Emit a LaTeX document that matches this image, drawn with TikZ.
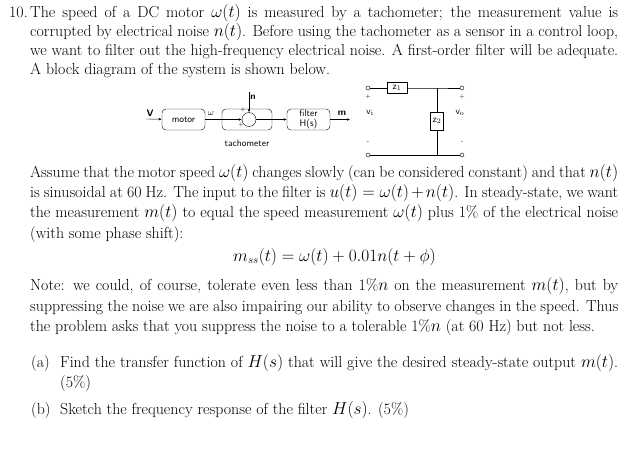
\documentclass[tikz,border=0pt]{standalone}
\usepackage{amsmath}
\usetikzlibrary{arrows.meta}
\begin{document}
\begin{tikzpicture}[x=1pt,y=-1pt,
  txt/.style={anchor=base west,inner sep=0pt,font=\fontsize{15.9}{19}\selectfont},
  blk/.style={draw,rounded corners=4pt,minimum height=21pt,inner sep=1pt,font=\sffamily\fontsize{9.5}{10}\selectfont,align=center},
  lbl/.style={inner sep=0pt,font=\sffamily\fontsize{9.5}{10}\selectfont},
  arr/.style={-{Latex[length=3pt,width=2.5pt]}},
  term/.style={draw,circle,minimum size=4pt,inner sep=0pt,fill=white}]
\useasboundingbox (0,0) rectangle (638,456);
\newcommand\fl[2]{\hbox to 588pt{#2}}
% text
\node[txt] (n10) at (9,17) {10.};
\node[txt] (l1) at (30,17) {\fl{}{The speed of a DC motor $\omega(t)$ is measured by a tachometer; the measurement value is}};
\node[txt] (l2) at (30,36) {\fl{}{corrupted by electrical noise $n(t)$. Before using the tachometer as a sensor in a control loop,}};
\node[txt] (l3) at (30,55) {\fl{}{we want to filter out the high-frequency electrical noise. A first-order filter will be adequate.}};
\node[txt] (l4) at (30,74) {A block diagram of the system is shown below.};
\node[txt] (l5) at (30,177) {\fl{}{Assume that the motor speed $\omega(t)$ changes slowly (can be considered constant) and that $n(t)$}};
\node[txt] (l6) at (30,197) {\fl{}{is sinusoidal at 60 Hz. The input to the filter is $u(t)=\omega(t)+n(t)$. In steady-state, we want}};
\node[txt] (l7) at (30,217) {\fl{}{the measurement $m(t)$ to equal the speed measurement $\omega(t)$ plus 1\% of the electrical noise}};
\node[txt] (l8) at (30,238) {(with some phase shift):};
\node[txt] (eq) at (233,261) {$m_{ss}(t)=\omega(t)+0.01n(t+\phi)$};
\node[txt] (l9) at (30,290) {\fl{}{Note: we could, of course, tolerate even less than 1\%$n$ on the measurement $m(t)$, but by}};
\node[txt] (l10) at (30,311) {\fl{}{suppressing the noise we are also impairing our ability to observe changes in the speed. Thus}};
\node[txt] (l11) at (30,331) {the problem asks that you suppress the noise to a tolerable 1\%$n$ (at 60 Hz) but not less.};
\node[txt] (la) at (31,367) {(a)};
\node[txt] (la1) at (60,367) {\hbox to 558pt{Find the transfer function of $H(s)$ that will give the desired steady-state output $m(t)$.}};
\node[txt] (la2) at (60,387) {(5\%)};
\node[txt] (lb) at (31,414) {(b)};
\node[txt] (lb1) at (60,414) {Sketch the frequency response of the filter $H(s)$. (5\%)};
% block diagram
\coordinate (vin) at (146,119);
\node[blk,minimum width=43pt] (motor) at (183.5,119.5) {motor};
\node[blk,minimum width=50pt] (tach) at (247,119.5) {};
\node[draw,circle,minimum size=14pt,inner sep=0pt] (sum) at (249,119.5) {};
\node[blk,minimum width=43pt] (filt) at (308.5,119.5) {filter\\H(s)};
\coordinate (nin) at (249,92);
\coordinate (mout) at (350,119.5);
\draw[arr] (vin) -- (motor);
\draw (motor) -- (tach.west);
\draw[arr] (tach.west) -- (sum);
\draw[arr] (nin) -- (sum);
\draw (sum) -- (tach.east);
\draw[arr] (tach.east) -- (filt);
\draw[arr] (filt) -- (mout);
\node[lbl,font=\sffamily\bfseries\fontsize{9.5}{10}\selectfont] (V) at (150,113) {V};
\node[lbl] (w) at (211,114) {$\omega$};
\node[lbl,font=\sffamily\bfseries\fontsize{9.5}{10}\selectfont] (n) at (253,97) {n};
\node[lbl,font=\sffamily\bfseries\fontsize{9.5}{10}\selectfont] (m) at (342,113) {m};
\node[lbl,font=\sffamily\fontsize{6.5}{7}\selectfont] (p1) at (243,110) {+};
\node[lbl,font=\sffamily\fontsize{6.5}{7}\selectfont] (p2) at (241,125) {+};
\node[lbl] (tl) at (247,143) {tachometer};
% circuit
\node[term] (t1) at (368,88) {};
\node[term] (t2) at (462,88) {};
\node[term] (t3) at (368,155) {};
\node[term] (t4) at (462,155) {};
\node[draw,minimum width=20pt,minimum height=11pt,inner sep=0pt,lbl] (z1) at (397,88) {z$_1$};
\node[draw,minimum width=13pt,minimum height=18pt,inner sep=0pt,lbl] (z2) at (437,121) {z$_2$};
\coordinate (j1) at (437,88);
\coordinate (j2) at (437,155);
\draw (t1) -- (z1) -- (j1) -- (t2);
\draw (j1) -- (z2) -- (j2);
\draw (t3) -- (t4);
\node[lbl] (vi) at (370,113) {v$_\mathrm{i}$};
\node[lbl] (vo) at (460,113) {v$_\mathrm{o}$};
\node[lbl,font=\sffamily\fontsize{6.5}{7}\selectfont] (pa) at (368,97) {+};
\node[lbl,font=\sffamily\fontsize{6.5}{7}\selectfont] (pb) at (462,97) {+};
\node[lbl,font=\sffamily\fontsize{6.5}{7}\selectfont] (ma) at (368,143) {-};
\node[lbl,font=\sffamily\fontsize{6.5}{7}\selectfont] (mb) at (462,143) {-};
\end{tikzpicture}
\end{document}
